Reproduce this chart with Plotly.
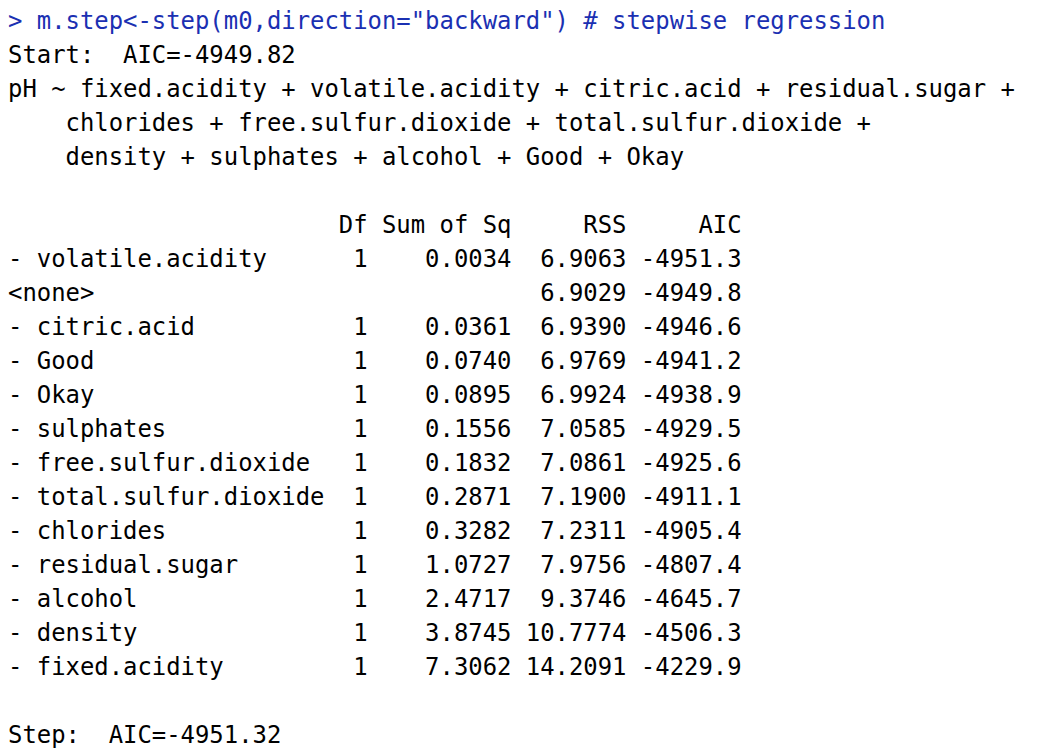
import plotly.graph_objects as go

command = '> m.step<-step(m0,direction="backward") # stepwise regression'
start_line = "Start:  AIC=-4949.82"
formula = ["pH ~ fixed.acidity + volatile.acidity + citric.acid + residual.sugar + ",
           "    chlorides + free.sulfur.dioxide + total.sulfur.dioxide + ",
           "    density + sulphates + alcohol + Good + Okay"]
terms = ["- volatile.acidity", "<none>", "- citric.acid", "- Good", "- Okay", "- sulphates",
         "- free.sulfur.dioxide", "- total.sulfur.dioxide", "- chlorides", "- residual.sugar",
         "- alcohol", "- density", "- fixed.acidity"]
df = ["1", "", "1", "1", "1", "1", "1", "1", "1", "1", "1", "1", "1"]
sum_sq = ["0.0034", "", "0.0361", "0.0740", "0.0895", "0.1556", "0.1832", "0.2871",
          "0.3282", "1.0727", "2.4717", "3.8745", "7.3062"]
rss = ["6.9063", "6.9029", "6.9390", "6.9769", "6.9924", "7.0585", "7.0861", "7.1900",
       "7.2311", "7.9756", "9.3746", "10.7774", "14.2091"]
aic = ["-4951.3", "-4949.8", "-4946.6", "-4941.2", "-4938.9", "-4929.5", "-4925.6",
       "-4911.1", "-4905.4", "-4807.4", "-4645.7", "-4506.3", "-4229.9"]
step_line = "Step:  AIC=-4951.32"

lines = [(command, "#1b30b2"), (start_line, "black")]
lines += [(f, "black") for f in formula]
lines.append(("", "black"))
lines.append((" " * 22 + f" {'Df':>2}{'Sum of Sq':>10}{'RSS':>8}{'AIC':>8}", "black"))
for t, d, s, r, a in zip(terms, df, sum_sq, rss, aic):
    lines.append((f"{t:<22} {d:>2}{s:>10}{r:>8}{a:>8}", "black"))
lines.append(("", "black"))
lines.append((step_line, "black"))

W, H = 1046, 754
fig = go.Figure()
for i, (txt, col) in enumerate(lines):
    if not txt:
        continue
    yc = 13 + 34.0 * i
    fig.add_annotation(text=txt.replace(" ", "\u00a0"), xref="paper", yref="paper",
                       x=-2 / W, y=1 - yc / H, xanchor="left", yanchor="middle",
                       showarrow=False, font=dict(family="DejaVu Sans Mono", size=23.9, color=col))
fig.update_layout(width=W, height=H, margin=dict(l=0, r=0, t=0, b=0),
                  paper_bgcolor="white", plot_bgcolor="white",
                  xaxis=dict(visible=False), yaxis=dict(visible=False))
fig.write_html("out.html")
